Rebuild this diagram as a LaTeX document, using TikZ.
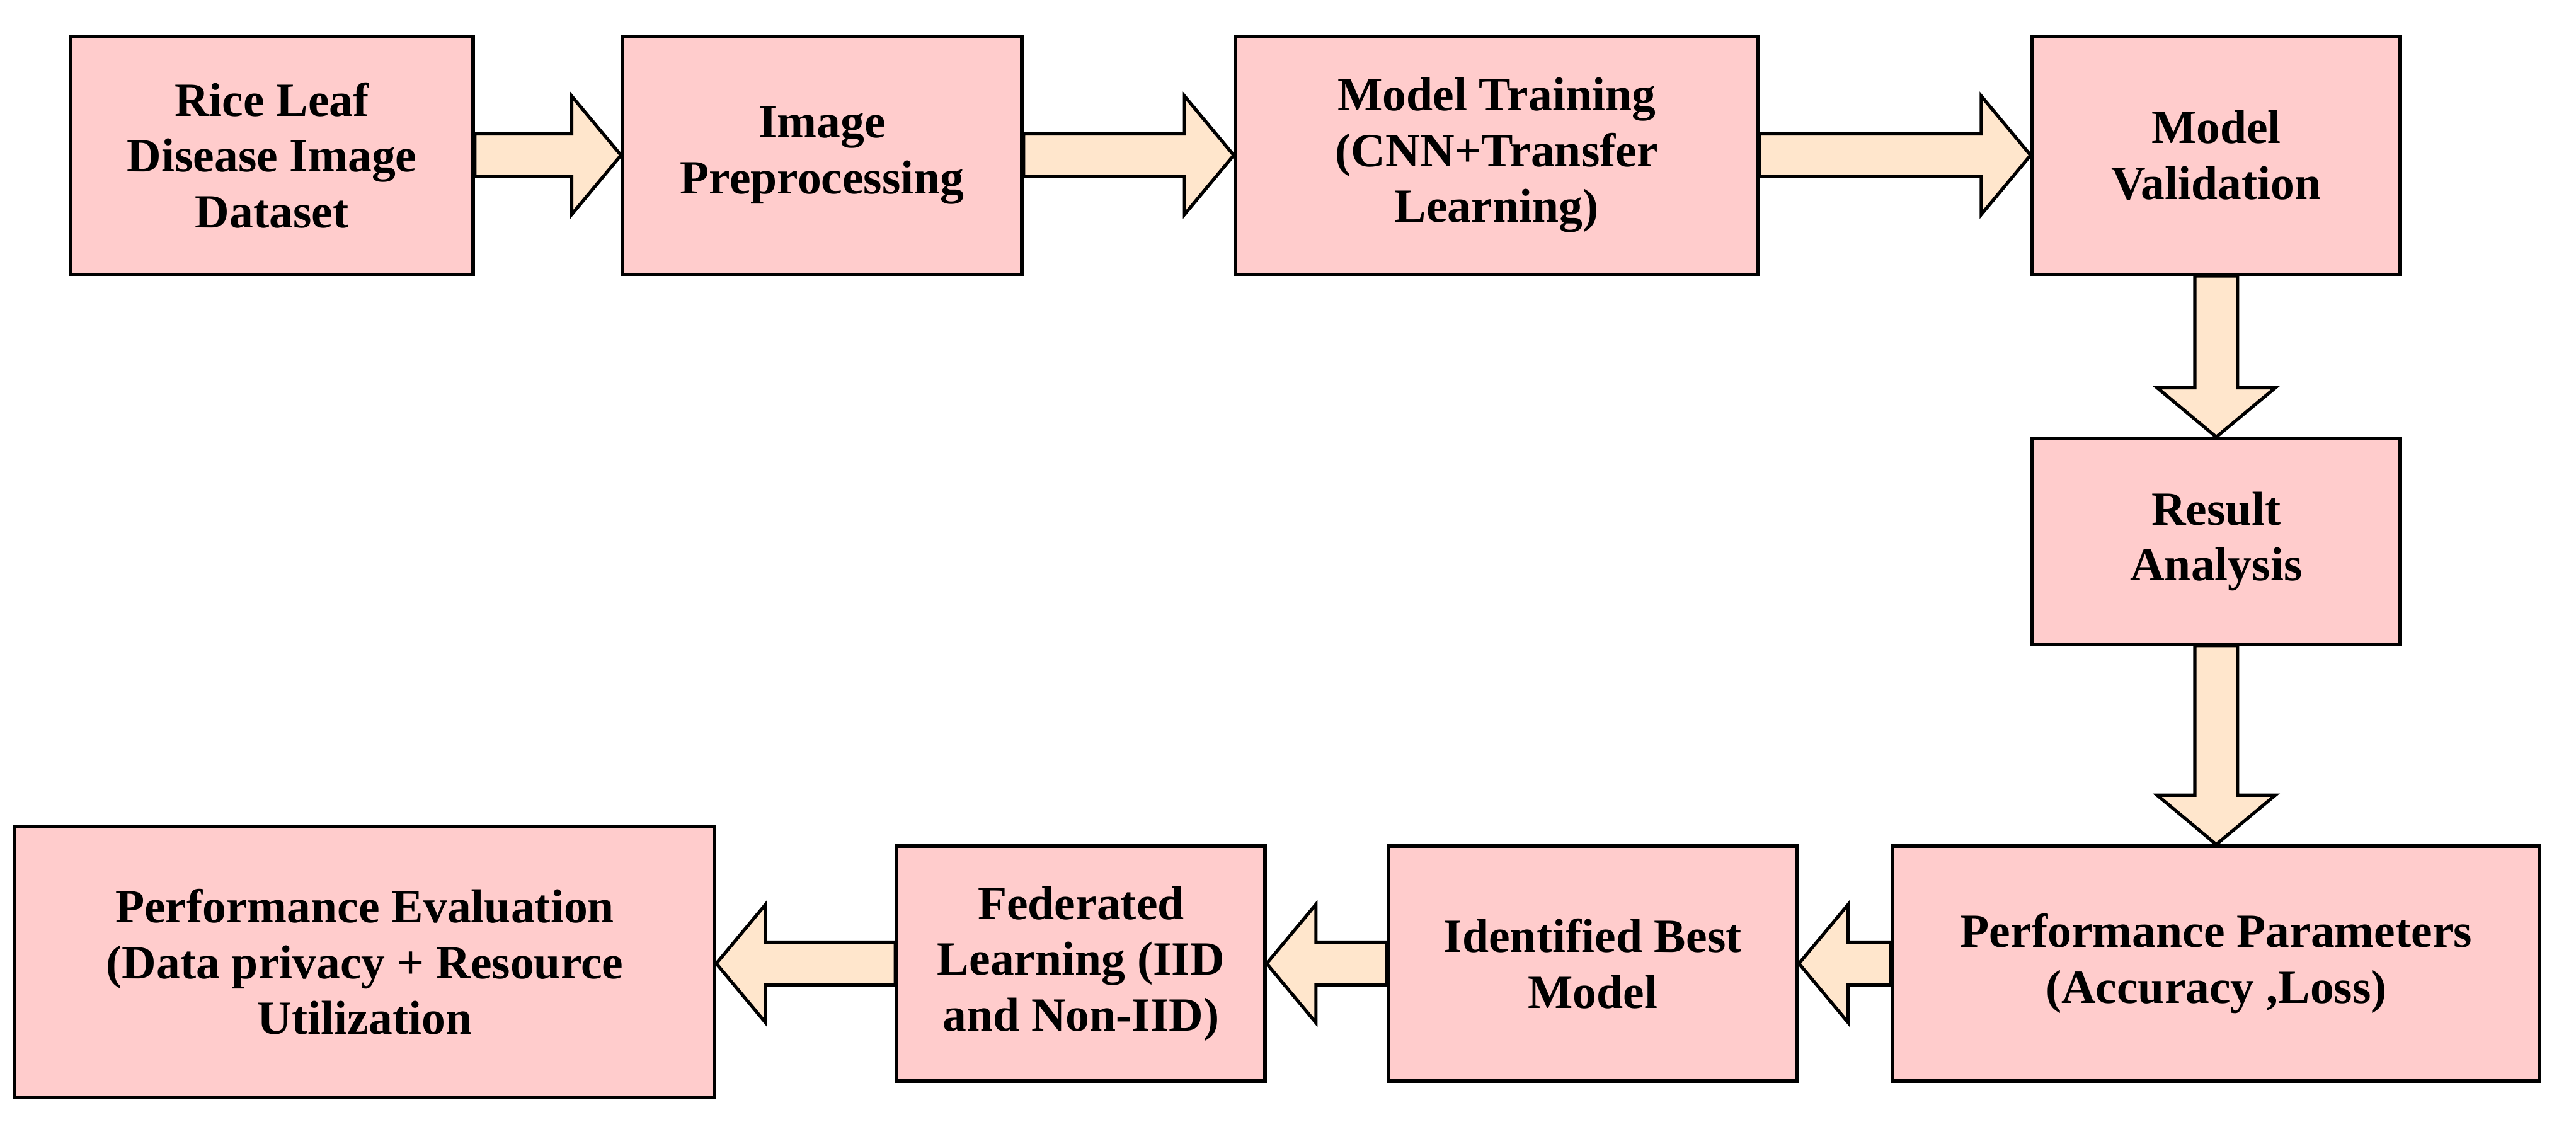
\documentclass[tikz,border=0pt]{standalone}
\usepackage{fontspec}
\setmainfont{Liberation Serif}
\usetikzlibrary{calc}
\definecolor{boxfill}{HTML}{FFCCCC}
\definecolor{arrfill}{HTML}{FFE6CC}
\tikzset{box/.style={draw=black,line width=2pt,fill=boxfill,align=center,font=\fontsize{29}{34}\selectfont\bfseries,inner sep=0pt},
arr/.style={draw=black,line width=2pt,fill=arrfill,line join=miter}}
\newcommand\harrowR[2]{\draw[arr] let \p1=(#1), \p2=(#2) in (\x1,\y1+13pt)--(\x2-30pt,\y1+13pt)--(\x2-30pt,\y1+36pt)--(\x2,\y1)--(\x2-30pt,\y1-36pt)--(\x2-30pt,\y1-13pt)--(\x1,\y1-13pt)--cycle;}
\newcommand\harrowL[2]{\draw[arr] let \p1=(#1), \p2=(#2) in (\x1,\y1+13pt)--(\x2+30pt,\y1+13pt)--(\x2+30pt,\y1+36pt)--(\x2,\y1)--(\x2+30pt,\y1-36pt)--(\x2+30pt,\y1-13pt)--(\x1,\y1-13pt)--cycle;}
\newcommand\varrow[2]{\draw[arr] let \p1=(#1), \p2=(#2) in (\x1-13pt,\y1)--(\x1-13pt,\y2+30pt)--(\x1-36pt,\y2+30pt)--(\x1,\y2)--(\x1+36pt,\y2+30pt)--(\x1+13pt,\y2+30pt)--(\x1+13pt,\y1)--cycle;}
\begin{document}
\begin{tikzpicture}[x=1pt,y=-1pt]
\useasboundingbox (0,0) rectangle (1568,693);
\node[box,minimum width=245pt,minimum height=145pt] (n1) at (165.5,94.5) {Rice Leaf\\Disease Image\\Dataset};
\node[box,minimum width=243pt,minimum height=145pt] (n2) at (500.5,94.5) {Image\\Preprocessing};
\node[box,minimum width=318pt,minimum height=145pt] (n3) at (911,94.5) {Model Training\\(CNN+Transfer\\Learning)};
\node[box,minimum width=224pt,minimum height=145pt] (n4) at (1349,94.5) {Model\\Validation};
\node[box,minimum width=224pt,minimum height=125pt] (n5) at (1349,329.5) {Result\\Analysis};
\node[box,minimum width=394pt,minimum height=143pt] (n6) at (1349,586.5) {Performance Parameters\\(Accuracy ,Loss)};
\node[box,minimum width=249pt,minimum height=143pt] (n7) at (969.5,586.5) {Identified Best\\Model};
\node[box,minimum width=224pt,minimum height=143pt] (n8) at (658,586.5) {Federated\\Learning (IID\\and Non-IID)};
\node[box,minimum width=426pt,minimum height=165pt] (n9) at (222,585.5) {Performance Evaluation\\(Data privacy + Resource\\Utilization};
\harrowR{n1.east}{n2.west}
\harrowR{n2.east}{n3.west}
\harrowR{n3.east}{n4.west}
\varrow{n4.south}{n5.north}
\varrow{n5.south}{n6.north}
\harrowL{n6.west}{n7.east}
\harrowL{n7.west}{n8.east}
\harrowL{n8.west}{n9.east}
\end{tikzpicture}
\end{document}
